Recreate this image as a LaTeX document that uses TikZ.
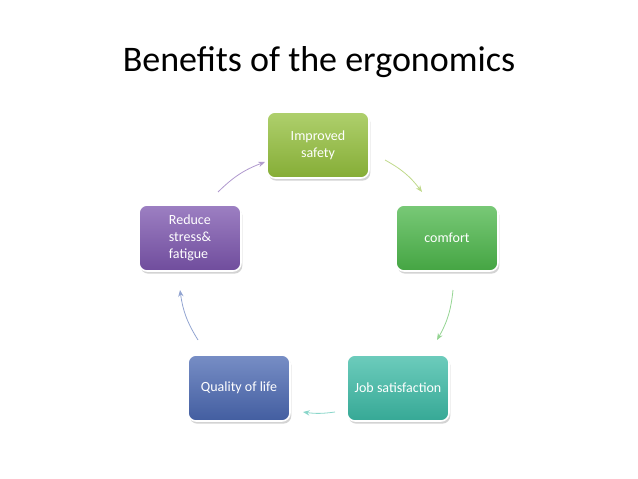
\documentclass[tikz,border=0pt]{standalone}
\usepackage{fontspec}
\setmainfont{Carlito}
\usetikzlibrary{arrows.meta,shadows}
\begin{document}
\begin{tikzpicture}[x=0.75pt,y=-0.75pt,
  box/.style={draw=white,line width=1.2pt,rounded corners=6pt,minimum width=102*0.75pt,minimum height=66*0.75pt,
    text=white,font=\fontsize{10.5}{12.5}\selectfont,align=center,drop shadow={shadow xshift=1pt,shadow yshift=-2pt,opacity=0.35}},
  arr/.style={-{Stealth[length=5pt,width=4pt]},line width=0.6pt}]
\useasboundingbox (0,0) rectangle (638,478);
\definecolor{cA}{HTML}{94C03C}
\definecolor{cB}{HTML}{4CB74A}
\definecolor{cC}{HTML}{3CBBA6}
\definecolor{cD}{HTML}{4A68B2}
\definecolor{cE}{HTML}{7C55AE}
\node[font=\fontsize{27}{30}\selectfont] (title) at (319,62) {Benefits of the ergonomics};
\node[box,top color=cA!75!white,bottom color=cA!90!black] (a) at (318,145) {Improved\\safety};
\node[box,top color=cB!75!white,bottom color=cB!90!black] (b) at (447,238) {comfort};
\node[box,top color=cC!75!white,bottom color=cC!90!black] (c) at (398,388) {Job satisfaction};
\node[box,top color=cD!75!white,bottom color=cD!90!black] (d) at (239,388) {Quality of life};
\node[box,top color=cE!75!white,bottom color=cE!90!black,align=left] (e) at (190,238) {Reduce\\stress\&\\fatigue};
\coordinate (a1) at (385,160); \coordinate (a2) at (422,192);
\coordinate (b1) at (453,290); \coordinate (b2) at (437,340);
\coordinate (c1) at (335,412); \coordinate (c2) at (303,412);
\coordinate (d1) at (198,340); \coordinate (d2) at (180,290);
\coordinate (e1) at (218,192); \coordinate (e2) at (265,162);
\draw[arr,draw=cA!60!white] (a1) to[bend left=12] (a2);
\draw[arr,draw=cB!60!white] (b1) to[bend left=12] (b2);
\draw[arr,draw=cC!60!white] (c1) to[bend left=8] (c2);
\draw[arr,draw=cD!60!white] (d1) to[bend left=12] (d2);
\draw[arr,draw=cE!60!white] (e1) to[bend left=12] (e2);
\end{tikzpicture}
\end{document}
